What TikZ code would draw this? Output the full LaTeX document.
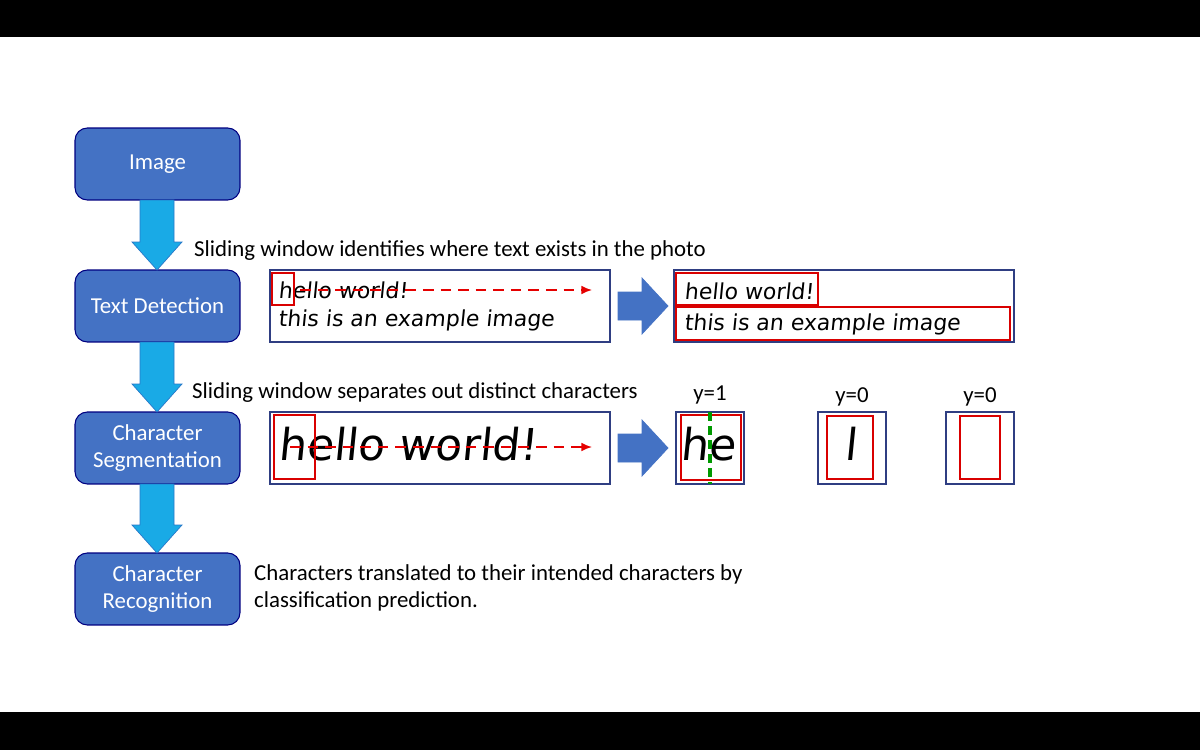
\documentclass[tikz,border=0pt]{standalone}
\usepackage{fontspec}
\setmainfont{Carlito}
\newfontfamily\hand{DejaVu Sans}[FakeSlant=0.1]
\usetikzlibrary{arrows.meta}
\begin{document}
\begin{tikzpicture}[x=0.02cm,y=-0.02cm,
  stepbox/.style={draw=blue!50!black,fill={rgb,255:red,68;green,114;blue,196},rounded corners=7pt,minimum width=3.3cm,minimum height=1.44cm,text=white,font=\fontsize{13}{15.5}\selectfont,align=center,line width=0.6pt},
  panel/.style={draw={rgb,255:red,47;green,62;blue,130},line width=0.8pt},
  redbox/.style={draw=red!85!black,line width=1pt},
  downarr/.style={fill={rgb,255:red,25;green,170;blue,230},draw={rgb,255:red,40;green,120;blue,200},line width=0.4pt},
  rightarr/.style={fill={rgb,255:red,68;green,114;blue,196},draw={rgb,255:red,68;green,114;blue,196}},
  lbl/.style={font=\fontsize{13}{15.5}\selectfont,anchor=west,align=left},
  dasharr/.style={red!90!black,dashed,dash pattern=on 6pt off 4pt,line width=1pt,-{Latex[length=6pt,width=5pt]}}]
\fill[black] (0,0) rectangle (1200,37);
\fill[black] (0,712) rectangle (1200,750);
\useasboundingbox (0,0) rectangle (1200,750);
% left column
\node[stepbox] (img) at (157.5,164) {Image};
\node[stepbox] (td) at (157.5,306) {Text Detection};
\node[stepbox] (cs) at (157.5,448) {Character\\Segmentation};
\node[stepbox] (cr) at (157.5,589) {Character\\Recognition};
\foreach \a/\b in {200/270,342/412,484/553}{
  \draw[downarr] (140,\a) -- (174,\a) -- (174,\b-28) -- (182,\b-28) -- (157,\b) -- (132,\b-28) -- (140,\b-28) -- cycle;
}
% labels
\node[lbl] (l1) at (188,251) {Sliding window identifies where text exists in the photo};
\node[lbl] (l2) at (186,393) {Sliding window separates out distinct characters};
\node[lbl] (l3) at (248,588) {Characters translated to their intended characters by\\classification prediction.};
% text detection row
\draw[panel] (270,270) rectangle (610,342);
\node[anchor=west,font=\hand\fontsize{12.5}{15}\selectfont,inner sep=0] (h1) at (278,290) {hello world!};
\node[anchor=west,font=\hand\fontsize{12.5}{15}\selectfont,inner sep=0] (h2) at (278,320) {this is an example image};
\draw[redbox] (272,273) rectangle (294,305);
\coordinate (da1) at (300,290); \coordinate (db1) at (592,290);
\draw[dasharr] (da1) -- (db1);
\draw[rightarr] (618,292) -- (642,292) -- (642,278) -- (668,306) -- (642,334) -- (642,320) -- (618,320) -- cycle;
\draw[panel] (674,270) rectangle (1014,342);
\node[anchor=west,font=\hand\fontsize{12.5}{15}\selectfont,inner sep=0] (h3) at (684,291) {hello world!};
\node[anchor=west,font=\hand\fontsize{12.5}{15}\selectfont,inner sep=0] (h4) at (684,324) {this is an example image};
\draw[redbox] (676,273) rectangle (818,305);
\draw[redbox] (676,307) rectangle (1010,340);
% segmentation row
\draw[panel] (270,412) rectangle (610,484);
\node[anchor=west,font=\hand\fontsize{25}{28}\selectfont,inner sep=0] (h5) at (278,444) {hello world!};
\draw[redbox] (274,415) rectangle (315,479);
\coordinate (da2) at (290,447); \coordinate (db2) at (592,447);
\draw[dasharr] (da2) -- (db2);
\draw[rightarr] (618,434) -- (642,434) -- (642,420) -- (668,448) -- (642,476) -- (642,462) -- (618,462) -- cycle;
\draw[panel] (676,412) rectangle (744,484);
\draw[panel] (818,412) rectangle (886,484);
\draw[panel] (946,412) rectangle (1014,484);
\node[font=\hand\fontsize{25}{28}\selectfont,inner sep=0] (he) at (708,444) {he};
\node[font=\hand\fontsize{25}{28}\selectfont,inner sep=0] (ll) at (851,444) {l};
\draw[redbox] (681,415) rectangle (741,480);
\draw[redbox] (827,416) rectangle (873,479);
\draw[redbox] (960,416) rectangle (1000,479);
\draw[green!60!black,dashed,line width=2pt,dash pattern=on 5pt off 3pt] (710,412) -- (710,484);
\node[font=\fontsize{13}{15}\selectfont] (y1) at (710,395) {y=1};
\node[font=\fontsize{13}{15}\selectfont] (y2) at (852,397) {y=0};
\node[font=\fontsize{13}{15}\selectfont] (y3) at (980,397) {y=0};
\end{tikzpicture}
\end{document}
